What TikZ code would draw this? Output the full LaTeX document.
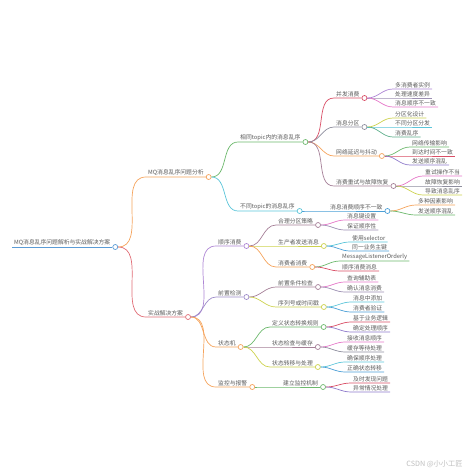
\documentclass[tikz,border=0pt]{standalone}
\usepackage{fontspec}
\newfontfamily\cjk{Noto Sans CJK SC}
\definecolor{txtgray}{HTML}{5A5A5A}
\definecolor{cblue}{HTML}{5B9BD5}
\definecolor{corange}{HTML}{F5A35C}
\definecolor{cred}{HTML}{E06C75}
\definecolor{cgreen}{HTML}{6CB86C}
\definecolor{ccyan}{HTML}{5BC5D9}
\definecolor{ccrimson}{HTML}{D94E66}
\definecolor{cgray}{HTML}{8E8E9E}
\definecolor{cmauve}{HTML}{A57F97}
\definecolor{cpurple}{HTML}{AE86D4}
\definecolor{cviolet}{HTML}{9D8BC9}
\definecolor{cpink}{HTML}{E576C8}
\definecolor{cyellow}{HTML}{CDD24E}
\definecolor{cteal}{HTML}{5DAE8B}
\definecolor{cdblue}{HTML}{4C9FD6}
\definecolor{cindigo}{HTML}{8F7BCB}
\definecolor{clgray}{HTML}{9C8FB2}
\definecolor{cmark}{HTML}{BDBDBD}
\tikzset{
    topic/.style={anchor=south west, inner xsep=2pt, inner ysep=1pt,
        text=txtgray, font=\cjk\fontsize{5.8}{7}\selectfont},
    knob/.style={circle, draw, fill=white, inner sep=0pt,
        minimum size=5pt, line width=0.7pt, anchor=west},
    branch/.style={line width=0.7pt, out=0, in=180},
}

\begin{document}
\begin{tikzpicture}[x=1pt,y=-1pt]
    \useasboundingbox (0,0) rectangle (474,474);
    % root
    \node[topic] (root) at (12,247) {MQ消息乱序问题解析与实战解决方案};
    \draw[cblue,line width=0.7pt] (root.south west) -- (root.south east);
    \node[knob,draw=cblue] (root-k) at (root.south east) {};
    % inner topics: parent/name/x/y/colour/text
    \foreach \p/\n/\x/\y/\c/\t in {
        root/ana/146/177/corange/MQ消息乱序问题分析,
        root/sol/146/317/cred/实战解决方案,
        ana/same/238/142/cgreen/相同topic内的消息乱序,
        ana/diff/238/211/ccyan/不同topic的消息乱序,
        same/conc/334/98/ccrimson/并发消费,
        same/part/334/127/cgray/消息分区,
        same/net/334/156/corange/网络延迟与抖动,
        same/retry/334/186/cmauve/消费重试与故障恢复,
        diff/incons/328/211/cdblue/消息消费顺序不一致,
        sol/seq/216/246/cpurple/顺序消费,
        sol/pre/216/297/cviolet/前置检测,
        sol/fsm/216/347/corange/状态机,
        sol/mon/216/387/corange/监控与报警,
        seq/psel/276/225/cmauve/合理分区策略,
        seq/prod/276/246/cyellow/生产者发送消息,
        seq/cons/276/267/corange/消费者消费,
        pre/chk/276/287/cmauve/前置条件检查,
        pre/sn/276/307/cyellow/序列号或时间戳,
        fsm/rule/270/327/cgreen/定义状态转换规则,
        fsm/cache/270/347/cmauve/状态检查与缓存,
        fsm/trans/270/367/cyellow/状态转移与处理,
        mon/alarm/281/387/cgreen/建立监控机制%
    }{
        \node[topic] (\n) at (\x,\y) {\t};
        \draw[\c,branch] (\p-k.east) to (\n.south west) -- (\n.south east);
        \node[knob,draw=\c] (\n-k) at (\n.south east) {};
    }
    % leaves: parent/x/y/colour/text
    \foreach \p/\x/\y/\c/\t [count=\i] in {
        conc/393/89/cpurple/多消费者实例,
        conc/393/98/clgray/处理速度差异,
        conc/393/107/cpink/消息顺序不一致,
        part/393/118/cyellow/分区化设计,
        part/393/127/ccyan/不同分区分发,
        part/393/137/cteal/消费乱序,
        net/410/147/cgreen/网络传输影响,
        net/410/156/ccrimson/到达时间不一致,
        net/410/165/cindigo/发送顺序混乱,
        retry/423/176/cpink/重试操作不当,
        retry/423/186/cgray/故障恢复影响,
        retry/423/195/cyellow/导致消息乱序,
        incons/416/205/corange/多种因素影响,
        incons/416/215/cgreen/发送顺序混乱,
        psel/345/220/cpink/消息键设置,
        psel/345/230/clgray/保证顺序性,
        prod/350/242/ccyan/使用selector,
        prod/350/251/cdblue/同一业务主键,
        cons/340/261/cgreen/MessageListenerOrderly,
        cons/340/271/ccrimson/顺序消费消息,
        chk/345/282/cpink/查询辅助表,
        chk/345/292/clgray/确认消息消费,
        sn/351/302/ccyan/消息中添加,
        sn/351/312/cdblue/消费者验证,
        rule/351/322/ccrimson/基于业务逻辑,
        rule/351/332/cindigo/确定处理顺序,
        cache/345/342/cpink/接收消息顺序,
        cache/345/352/cgray/缓存等待处理,
        trans/345/362/ccyan/确保顺序处理,
        trans/345/372/cdblue/正确状态转移,
        alarm/351/383/ccrimson/及时发现问题,
        alarm/351/392/cindigo/异常情况处理%
    }{
        \node[topic] (leaf\i) at (\x,\y) {\t};
        \draw[\c,branch] (\p-k.east) to (leaf\i.south west) -- (leaf\i.south east);
    }
    % watermark
    \node[anchor=east, text=cmark, font=\cjk\fontsize{7.2}{8}\selectfont] (mark) at (466,464) {CSDN @小小工匠};
\end{tikzpicture}
\end{document}
